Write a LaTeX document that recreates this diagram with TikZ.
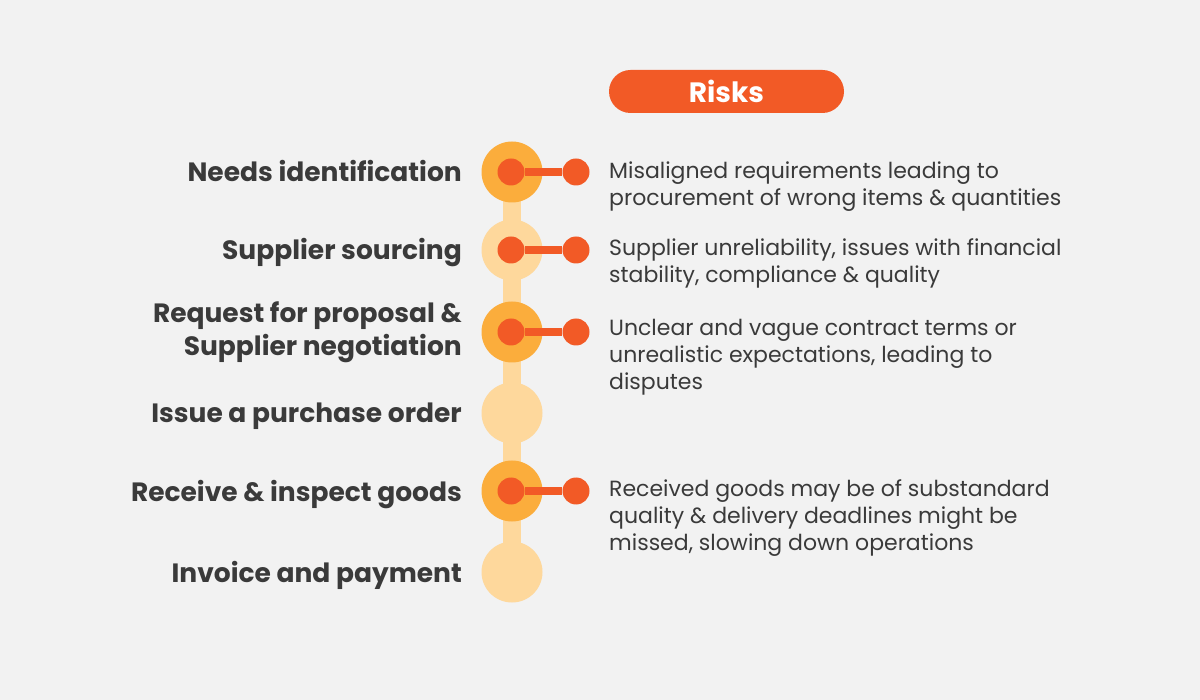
\documentclass[tikz,border=0pt]{standalone}
\usepackage{fontspec}
\setmainfont{Poppins}
\usepackage{tikz}

\definecolor{paper}{HTML}{F2F2F2}
\definecolor{ink}{HTML}{3A3A3A}
\definecolor{flame}{HTML}{F25A26}
\definecolor{amber}{HTML}{FBAD3C}
\definecolor{peach}{HTML}{FED89C}

\tikzset{
    steplabel/.style={anchor=base east, align=right, text=ink, inner sep=0pt,
        font=\fontsize{26.5}{33}\selectfont\bfseries},
    risktext/.style={anchor=north west, align=left, text=ink, inner sep=0pt,
        font=\fontsize{22}{27}\selectfont},
    stage/.style={circle, fill=peach, minimum size=61pt, inner sep=0pt},
    stageon/.style={stage, fill=amber},
    riskdot/.style={circle, fill=flame, minimum size=27pt, inner sep=0pt},
    track/.style={draw=peach, line width=18pt},
    riskline/.style={draw=flame, line width=8pt}
}

\begin{document}
\begin{tikzpicture}[x=1pt,y=-1pt]
    \fill[paper] (0,0) rectangle (1200,700);
    \useasboundingbox (0,0) rectangle (1200,700);

    % header
    \node[fill=flame, rounded corners=21.5pt, minimum width=235pt, minimum height=43pt,
        text=white, font=\fontsize{28}{30}\selectfont\bfseries] (risks) at (726.5,91.5) {Risks};

    % stage centres
    \coordinate (c1) at (512,172);
    \coordinate (c2) at (512,250);
    \coordinate (c3) at (512,332);
    \coordinate (c4) at (512,413);
    \coordinate (c5) at (512,491);
    \coordinate (c6) at (512,572);

    \draw[track] (c1) -- (c6);

    \node[stageon] (s1) at (c1) {};
    \node[stage]   (s2) at (c2) {};
    \node[stageon] (s3) at (c3) {};
    \node[stage]   (s4) at (c4) {};
    \node[stageon] (s5) at (c5) {};
    \node[stage]   (s6) at (c6) {};

    % stages
    \node[steplabel] (l1) at (462,182) {Needs identification};
    \node[steplabel] (l2) at (462,260) {Supplier sourcing};
    \node[steplabel, anchor=east] (l3) at (462,332) {Request for proposal \&\\Supplier negotiation};
    \node[steplabel] (l4) at (462,423) {Issue a purchase order};
    \node[steplabel] (l5) at (462,501) {Receive \& inspect goods};
    \node[steplabel] (l6) at (462,582) {Invoice and payment};

    % risks
    \foreach \i in {1,2,3,5}{
        \node[riskdot] (a\i) at ([xshift=-1pt]c\i) {};
        \node[riskdot] (b\i) at ([xshift=64pt]c\i) {};
        \draw[riskline] (a\i) -- (b\i);
    }

    \node[risktext] (r1) at (609,162) {Misaligned requirements leading to\\procurement of wrong items \& quantities};
    \node[risktext] (r2) at (609,238) {Supplier unreliability, issues with financial\\stability, compliance \& quality};
    \node[risktext] (r3) at (609,319) {Unclear and vague contract terms or\\unrealistic expectations, leading to\\disputes};
    \node[risktext] (r5) at (609,479) {Received goods may be of substandard\\quality \& delivery deadlines might be\\missed, slowing down operations};
\end{tikzpicture}
\end{document}
